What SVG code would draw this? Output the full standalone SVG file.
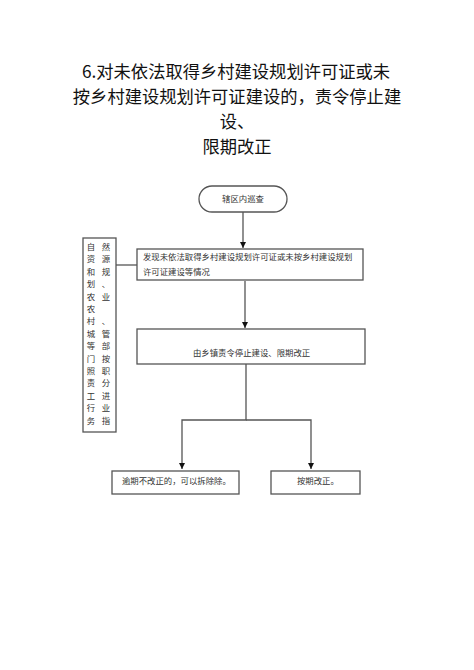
<svg xmlns="http://www.w3.org/2000/svg" width="474" height="670" viewBox="0 0 474 670">
<defs>
<marker id="arr" markerWidth="8" markerHeight="8" refX="6" refY="3" orient="auto" markerUnits="userSpaceOnUse">
<path d="M0,0 L6,3 L0,6 Z" fill="#111"/>
</marker>
<style>
.title{font-family:"Noto Sans CJK SC","Noto Sans",sans-serif;font-size:17.3px;fill:#111;text-anchor:middle}
.t{font-family:"Noto Sans CJK SC",sans-serif;font-size:8.4px;fill:#333}
.c{text-anchor:middle}
.box{fill:#fff;stroke:#555;stroke-width:1.3}
.ln{fill:none;stroke:#555;stroke-width:1.3}
</style>
</defs>
<rect width="474" height="670" fill="#fff"/>
<g id="title">
<text class="title" x="236" y="77.5">6.对未依法取得乡村建设规划许可证或未</text>
<text class="title" x="237" y="103">按乡村建设规划许可证建设的，责令停止建</text>
<text class="title" x="237" y="127.5">设、</text>
<text class="title" x="237" y="152.5">限期改正</text>
</g>
<g id="connectors">
<line class="ln" x1="243" y1="212" x2="243" y2="248" marker-end="url(#arr)"/>
<line class="ln" x1="245" y1="281" x2="245" y2="328" marker-end="url(#arr)"/>
<line class="ln" x1="116" y1="265" x2="137" y2="265"/>
<polyline class="ln" points="246,364 246,420 182,420 182,469" marker-end="url(#arr)"/>
<polyline class="ln" points="246,420 311,420 311,469" marker-end="url(#arr)"/>
</g>
<g id="start">
<rect class="box" x="199" y="186" width="88" height="26" rx="13"/>
<text class="t c" x="243" y="202">辖区内巡查</text>
</g>
<g id="discover">
<rect class="box" x="137" y="249" width="226" height="31"/>
<text class="t" x="143" y="260">发现未依法取得乡村建设规划许可证或未按乡村建设规划</text>
<text class="t" x="143" y="275">许可证建设等情况</text>
</g>
<g id="guide">
<rect class="box" x="83" y="238" width="33" height="194"/>
<g class="t c" font-size="9px">
<text x="91" y="250">自</text><text x="106" y="250">然</text>
<text x="91" y="262.4">资</text><text x="106" y="262.4">源</text>
<text x="91" y="274.8">和</text><text x="106" y="274.8">规</text>
<text x="91" y="287.2">划</text><text x="106" y="287.2">、</text>
<text x="91" y="299.6">农</text><text x="106" y="299.6">业</text>
<text x="91" y="312">农</text>
<text x="91" y="324.4">村</text><text x="106" y="324.4">、</text>
<text x="91" y="336.8">城</text><text x="106" y="336.8">管</text>
<text x="91" y="349.2">等</text><text x="106" y="349.2">部</text>
<text x="91" y="361.6">门</text><text x="106" y="361.6">按</text>
<text x="91" y="374">照</text><text x="106" y="374">职</text>
<text x="91" y="386.4">责</text><text x="106" y="386.4">分</text>
<text x="91" y="398.8">工</text><text x="106" y="398.8">进</text>
<text x="91" y="411.2">行</text><text x="106" y="411.2">业</text>
<text x="91" y="423.6">务</text><text x="106" y="423.6">指</text>
</g>
</g>
<g id="order">
<rect class="box" x="137" y="329" width="228" height="35"/>
<text class="t" x="193" y="356">由乡镇责令停止建设、限期改正</text>
</g>
<g id="demolish">
<rect class="box" x="112" y="471" width="127" height="23"/>
<text class="t" x="122" y="484" font-size="8.2px">逾期不改正的，可以拆除除。</text>
</g>
<g id="correct">
<rect class="box" x="271" y="471" width="89" height="23"/>
<text class="t" x="297" y="484">按期改正。</text>
</g>
</svg>
